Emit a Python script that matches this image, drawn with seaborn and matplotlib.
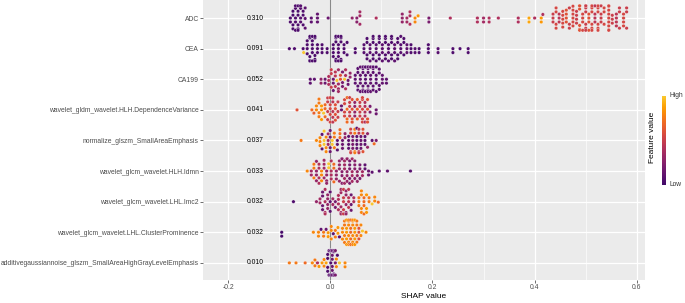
import numpy as np
import pandas as pd
import seaborn as sns
import matplotlib.pyplot as plt
from matplotlib.colors import LinearSegmentedColormap, Normalize
from matplotlib.cm import ScalarMappable

plt.rcParams['font.family'] = ['Liberation Sans', 'DejaVu Sans']

# features, top to bottom, with the mean |SHAP| printed next to each row
features = [
    "ADC",
    "CEA",
    "CA199",
    "wavelet_gldm_wavelet.HLH.DependenceVariance",
    "normalize_glszm_SmallAreaEmphasis",
    "wavelet_glcm_wavelet.HLH.Idmn",
    "wavelet_glcm_wavelet.LHL.Imc2",
    "wavelet_glcm_wavelet.LHL.ClusterProminence",
    "additivegaussiannoise_glszm_SmallAreaHighGrayLevelEmphasis",
]
mean_abs = ["0.310", "0.091", "0.052", "0.041", "0.037", "0.033", "0.032", "0.032", "0.010"]

# (shap value, number of points, scaled feature value)
adc = [(-0.078, 2, 0.05), (-0.073, 4, 0.03), (-0.068, 5, 0.06), (-0.063, 6, 0.04),
       (-0.058, 4, 0.08), (-0.053, 3, 0.05), (-0.049, 3, 0.1), (-0.037, 2, 0.1),
       (-0.025, 3, 0.12), (-0.004, 1, 0.15), (0.043, 1, 0.3), (0.052, 2, 0.25),
       (0.058, 3, 0.35), (0.090, 1, 0.4), (0.141, 3, 0.3), (0.150, 2, 0.35),
       (0.156, 3, 0.4), (0.166, 2, 0.8), (0.172, 1, 0.85), (0.193, 2, 0.2),
       (0.235, 1, 0.4), (0.288, 2, 0.4), (0.300, 2, 0.35), (0.311, 2, 0.4),
       (0.329, 1, 0.4), (0.368, 2, 0.4), (0.389, 2, 0.9), (0.400, 1, 0.4),
       (0.413, 2, 0.85), (0.416, 1, 0.4),
       (0.436, 3, 0.5), (0.442, 4, 0.55), (0.448, 3, 0.45), (0.455, 5, 0.55),
       (0.462, 4, 0.6), (0.468, 3, 0.5), (0.475, 6, 0.55), (0.482, 4, 0.5),
       (0.488, 6, 0.6), (0.494, 4, 0.55), (0.500, 7, 0.5), (0.506, 4, 0.6),
       (0.512, 6, 0.55), (0.518, 4, 0.45), (0.524, 6, 0.55), (0.530, 4, 0.5),
       (0.536, 3, 0.55), (0.545, 9, 0.55), (0.552, 3, 0.5), (0.560, 4, 0.45),
       (0.566, 3, 0.5), (0.574, 4, 0.55), (0.580, 3, 0.5)]

cea = [(-0.080, 1, 0.05), (-0.070, 1, 0.05), (-0.053, 1, 0.05), (-0.052, 1, 1.05),
       (-0.045, 4, 0.05), (-0.040, 5, 0.03), (-0.035, 6, 0.05), (-0.030, 5, 0.04),
       (-0.025, 3, 0.06), (-0.016, 3, 0.05), (-0.006, 2, 0.05), (0.006, 4, 0.05),
       (0.011, 6, 0.04), (0.016, 6, 0.06), (0.021, 5, 0.05), (0.027, 3, 0.05),
       (0.033, 2, 0.04), (0.049, 2, 0.05), (0.066, 3, 0.08), (0.072, 4, 0.05),
       (0.078, 4, 0.1), (0.084, 5, 0.05), (0.090, 4, 0.08), (0.096, 5, 0.05),
       (0.102, 4, 0.1), (0.108, 5, 0.05), (0.114, 4, 0.08), (0.120, 5, 0.05),
       (0.126, 4, 0.1), (0.132, 4, 0.05), (0.138, 4, 0.08), (0.144, 3, 0.05),
       (0.150, 3, 0.1), (0.158, 3, 0.05), (0.166, 2, 0.08), (0.174, 2, 0.05),
       (0.192, 3, 0.05), (0.211, 2, 0.08), (0.240, 2, 0.05), (0.254, 1, 0.05),
       (0.270, 2, 0.05)]

ca199 = [(-0.039, 2, 0.1), (-0.031, 1, 0.1), (-0.018, 2, 0.3), (-0.010, 2, 0.15),
         (-0.003, 3, 0.4), (0.002, 3, 0.5), (0.006, 3, 0.15), (0.010, 3, 0.45),
         (0.013, 1, 1.05), (0.016, 4, 0.35), (0.020, 2, 0.6), (0.024, 3, 0.2),
         (0.028, 1, 1.05), (0.030, 3, 0.4), (0.035, 2, 0.15), (0.039, 2, 0.3),
         (0.049, 3, 0.1), (0.054, 4, 0.08), (0.059, 6, 0.12), (0.064, 7, 0.1),
         (0.069, 8, 0.08), (0.074, 8, 0.1), (0.079, 7, 0.12), (0.084, 6, 0.1),
         (0.090, 5, 0.08), (0.096, 4, 0.1), (0.102, 3, 0.12), (0.110, 2, 0.1)]

dep_var = [(-0.065, 1, 0.6), (-0.036, 1, 0.7), (-0.032, 1, 0.65), (-0.027, 2, 0.8),
           (-0.022, 4, 0.75), (-0.017, 3, 0.85), (-0.013, 1, 1.05), (-0.010, 3, 0.7),
           (-0.005, 4, 0.5), (0.000, 5, 0.55), (0.005, 5, 0.45), (0.010, 4, 0.6),
           (0.015, 3, 0.5), (0.022, 2, 0.15), (0.028, 4, 0.55), (0.033, 4, 0.7),
           (0.038, 5, 0.5), (0.043, 5, 0.6), (0.048, 4, 0.3), (0.053, 3, 0.65),
           (0.058, 4, 0.5), (0.063, 5, 0.55), (0.068, 5, 0.4), (0.073, 4, 0.6),
           (0.078, 2, 0.2), (0.090, 2, 0.15)]

small_area = [(-0.057, 1, 0.75), (-0.027, 1, 0.8), (-0.020, 3, 0.8), (-0.016, 2, 0.1),
              (-0.012, 3, 1.05), (-0.008, 3, 0.8), (-0.004, 3, 0.35), (0.000, 4, 0.15),
              (0.004, 2, 1.05), (0.008, 3, 0.75), (0.014, 3, 0.1), (0.019, 3, 0.7),
              (0.024, 3, 0.15), (0.029, 2, 0.3), (0.036, 4, 0.1), (0.040, 4, 0.55),
              (0.044, 4, 0.2), (0.048, 4, 0.75), (0.052, 5, 0.1), (0.056, 4, 0.45),
              (0.060, 4, 0.15), (0.064, 3, 0.6), (0.068, 3, 0.1), (0.073, 2, 0.3),
              (0.082, 1, 0.1), (0.086, 1, 0.7), (0.090, 1, 0.2)]

idmn = [(-0.045, 1, 0.8), (-0.037, 2, 0.35), (-0.032, 3, 0.75), (-0.027, 4, 0.3),
        (-0.022, 4, 0.4), (-0.017, 3, 0.8), (-0.012, 4, 0.35), (-0.007, 4, 0.3),
        (-0.003, 2, 1.05), (0.002, 4, 0.4), (0.007, 3, 0.7), (0.012, 3, 0.3),
        (0.018, 4, 0.3), (0.023, 5, 0.25), (0.028, 5, 0.35), (0.033, 5, 0.3),
        (0.038, 5, 0.2), (0.043, 4, 0.35), (0.048, 4, 0.25), (0.053, 3, 0.3),
        (0.058, 3, 0.2), (0.063, 2, 0.35), (0.068, 2, 0.1), (0.075, 2, 0.15),
        (0.082, 1, 0.1), (0.096, 1, 0.1), (0.112, 1, 0.1), (0.157, 1, 0.08)]

imc2 = [(-0.072, 1, 0.05), (-0.027, 1, 0.3), (-0.020, 2, 0.35), (-0.015, 4, 0.15),
        (-0.010, 4, 0.4), (-0.005, 4, 0.3), (0.000, 3, 0.1), (0.005, 2, 0.35),
        (0.010, 2, 0.2), (0.016, 4, 0.4), (0.021, 5, 0.35), (0.026, 5, 0.5),
        (0.031, 5, 0.3), (0.036, 4, 0.45), (0.041, 3, 0.15), (0.046, 2, 0.4),
        (0.056, 3, 0.75), (0.061, 4, 0.8), (0.066, 4, 0.7), (0.071, 3, 0.85),
        (0.076, 2, 0.75), (0.082, 1, 1.05), (0.087, 2, 0.8), (0.094, 1, 0.7)]

cluster_prom = [(-0.095, 2, 0.02), (-0.033, 1, 0.8), (-0.023, 2, 0.8), (-0.018, 1, 0.1),
                (-0.013, 2, 0.75), (-0.008, 1, 0.15), (-0.004, 2, 0.85), (0.002, 3, 0.8),
                (0.006, 1, 0.1), (0.010, 2, 0.75), (0.015, 2, 0.85), (0.018, 1, 0.1),
                (0.024, 3, 0.8), (0.028, 4, 0.75), (0.032, 5, 0.85), (0.036, 6, 0.8),
                (0.040, 6, 0.7), (0.044, 6, 0.8), (0.048, 5, 0.85), (0.052, 4, 0.75),
                (0.056, 3, 0.6), (0.060, 2, 0.8), (0.063, 1, 1.05), (0.070, 1, 0.8)]

sahgle = [(-0.080, 1, 0.75), (-0.067, 1, 0.75), (-0.049, 1, 0.7), (-0.035, 1, 0.8),
          (-0.030, 2, 0.75), (-0.025, 1, 0.4), (-0.022, 1, 0.85), (-0.016, 1, 0.85),
          (-0.012, 2, 0.8), (-0.008, 1, 0.9), (-0.005, 4, 0.05), (-0.002, 6, 0.1),
          (0.001, 7, 0.05), (0.004, 7, 0.15), (0.007, 5, 0.08), (0.010, 4, 0.2),
          (0.012, 2, 0.8), (0.014, 1, 0.05), (0.018, 1, 1.05), (0.029, 2, 0.8)]

rows = [adc, cea, ca199, dep_var, small_area, idmn, imc2, cluster_prom, sahgle]

frames = []
for name, pts in zip(features, rows):
    x, n, f = zip(*pts)
    frames.append(pd.DataFrame({"feature": name,
                                "shap": np.repeat(x, n),
                                "value": np.repeat(f, n)}))
df = pd.concat(frames, ignore_index=True)

# truncated inferno like shapviz; values above 1 show as the yellow outliers
cmap = LinearSegmentedColormap.from_list("shp", plt.get_cmap("inferno")(np.linspace(0.2, 0.87, 256)))
cmap.set_over("#f7c531")
pal = {v: cmap(v) for v in df["value"].unique()}

fig = plt.figure(figsize=(6.85, 3.03), dpi=100)
ax = fig.add_axes([203 / 685, 1 - 280 / 303, 442 / 685, 280 / 303])
ax.set_facecolor("#EBEBEB")

sns.swarmplot(data=df, x="shap", y="feature", hue="value", palette=pal, order=features,
              size=2.5, linewidth=0.2, edgecolor="white", legend=False, ax=ax, zorder=3)

ax.axvline(0, color="#8a8a8a", lw=0.8, zorder=2)
for i, t in enumerate(mean_abs):
    ax.text(-0.147, i, t, ha="center", va="center", fontsize=4.9, color="black")

ax.set_xlim(-0.249, 0.616)
ax.set_ylim(8.56, -0.59)
ax.set_xticks([-0.2, 0.0, 0.2, 0.4, 0.6])
ax.set_xticklabels(["-0.2", "0.0", "0.2", "0.4", "0.6"])
ax.set_xticks([-0.1, 0.1, 0.3, 0.5], minor=True)
ax.set_axisbelow(True)
ax.grid(which="major", color="white", lw=0.9)
ax.grid(which="minor", axis="x", color="white", lw=0.45)
for s in ax.spines.values():
    s.set_visible(False)
ax.tick_params(length=2, width=0.5, color="#333333", labelsize=4.9, labelcolor="#4D4D4D", pad=1)
ax.tick_params(which="minor", length=0)
ax.set_xlabel("SHAP value", fontsize=6, labelpad=1)
ax.set_ylabel("")

cax = fig.add_axes([662 / 685, 1 - 185 / 303, 4 / 685, 89 / 303])
cb = fig.colorbar(ScalarMappable(norm=Normalize(0, 1), cmap=cmap), cax=cax)
cb.outline.set_visible(False)
cax.set_yticks([])
cax.text(2.0, 1.0, "High", transform=cax.transAxes, ha="left", va="center", fontsize=4.8, color="#333333")
cax.text(2.0, 0.0, "Low", transform=cax.transAxes, ha="left", va="center", fontsize=4.8, color="#333333")
fig.text(653 / 685, 1 - 137 / 303, "Feature value", rotation=90, ha="center", va="center", fontsize=6)

fig.savefig("out.png", dpi=100)
